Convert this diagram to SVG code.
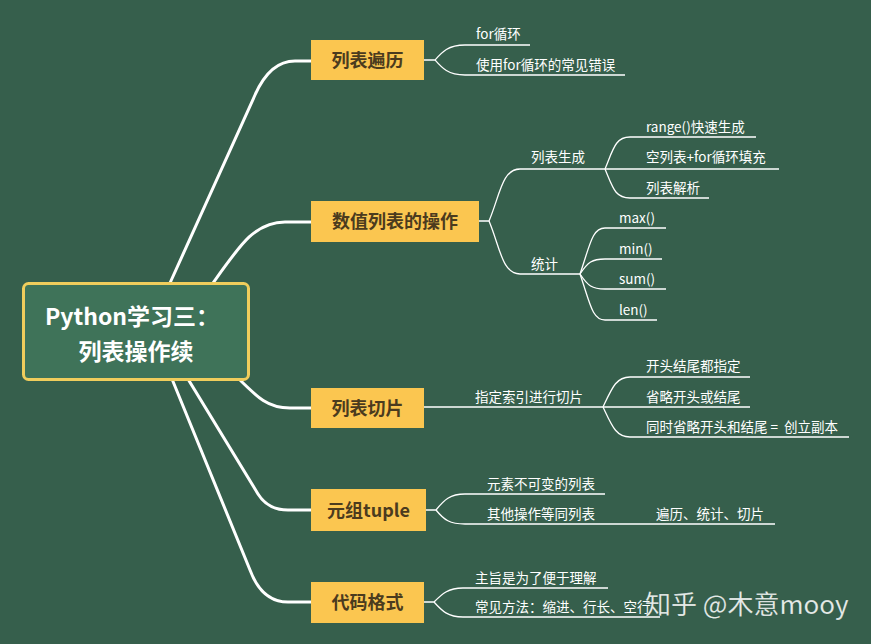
<svg xmlns="http://www.w3.org/2000/svg" width="871" height="644" viewBox="0 0 871 644">
<style>
.main{fill:none;stroke:#ffffff;stroke-width:3;stroke-linecap:round}
.sub{fill:none;stroke:#ffffff;stroke-width:1.3}
.box{fill:#fbc650}
.bt{font-family:"Noto Sans CJK SC","Liberation Sans",sans-serif;font-size:18px;font-weight:bold;fill:#4b3b1e;text-anchor:middle}
.ct{font-family:"Noto Sans CJK SC","Liberation Sans",sans-serif;font-size:13.5px;fill:#ffffff}
.rt{font-family:"Noto Sans CJK SC","Liberation Sans",sans-serif;font-size:23px;font-weight:bold;fill:#ffffff;text-anchor:middle}
</style>
<rect x="0" y="0" width="871" height="644" fill="#365f4c"/>
<g id="connectors">
<path class="main" d="M148,331 L170,283 L255,95 Q270,61 295,61 H311"/>
<path class="main" d="M185,331 L213,283 C240,245 255,222 285,222 H311"/>
<path class="main" d="M200,350 L238,378 C258,398 268,408 290,408 H311"/>
<path class="main" d="M175,350 L188,379 L258,494 Q268,510 288,510 H311"/>
<path class="main" d="M160,350 L172,379 L250,570 Q262,602 288,602 H311"/>
<path class="sub" d="M424,60 H435 C442,52 448,45 465,45 H530"/>
<path class="sub" d="M435,60 C442,68 448,75 465,75 H625"/>
<path class="sub" d="M479,221 H489 C500,195 502,169 520,169 H605"/>
<path class="sub" d="M489,221 C500,247 502,274 520,274 H580"/>
<path class="sub" d="M605,169 C613,150 615,137 630,137 H756"/>
<path class="sub" d="M605,169 H779"/>
<path class="sub" d="M605,169 C613,188 615,198 630,198 H709"/>
<path class="sub" d="M580,274 C590,245 592,228 605,228 H666"/>
<path class="sub" d="M580,274 C588,262 592,259 605,259 H662"/>
<path class="sub" d="M580,274 C588,286 592,289 605,289 H666"/>
<path class="sub" d="M580,274 C590,303 592,320 605,320 H657"/>
<path class="sub" d="M424,407 H603"/>
<path class="sub" d="M603,407 C612,388 616,377 630,377 H750"/>
<path class="sub" d="M603,407 H750"/>
<path class="sub" d="M603,407 C612,426 616,437 630,437 H849"/>
<path class="sub" d="M426,510 H436 C444,500 450,494 465,494 H605"/>
<path class="sub" d="M436,510 C444,520 450,524 465,524 H775"/>
<path class="sub" d="M424,602 H434 C442,594 448,588 463,588 H608"/>
<path class="sub" d="M434,602 C442,611 448,617 463,617 H660"/>
</g>
<g id="root">
<rect x="23.5" y="283.5" width="225" height="96" rx="5" fill="#3f7359" stroke="#f0cd5c" stroke-width="3"/>
<text class="rt" x="132" y="325">Python学习三：</text>
<text class="rt" x="136" y="360">列表操作续</text>
</g>
<g id="n1"><rect class="box" x="311" y="40" width="113" height="40"/><text class="bt" x="367.5" y="66.5">列表遍历</text></g>
<g id="n2"><rect class="box" x="311" y="201" width="168" height="41"/><text class="bt" x="395" y="228">数值列表的操作</text></g>
<g id="n3"><rect class="box" x="311" y="388" width="113" height="40"/><text class="bt" x="367.5" y="414.5">列表切片</text></g>
<g id="n4"><rect class="box" x="311" y="489" width="115" height="42"/><text class="bt" x="368.5" y="516.5">元组tuple</text></g>
<g id="n5"><rect class="box" x="311" y="582" width="113" height="41"/><text class="bt" x="367.5" y="608.5">代码格式</text></g>
<g id="c1"><text class="ct" x="476" y="39">for循环</text></g>
<g id="c2"><text class="ct" x="476" y="70">使用for循环的常见错误</text></g>
<g id="c3"><text class="ct" x="531" y="162">列表生成</text></g>
<g id="c4"><text class="ct" x="531" y="269">统计</text></g>
<g id="c5"><text class="ct" x="646" y="132">range()快速生成</text></g>
<g id="c6"><text class="ct" x="646" y="162">空列表+for循环填充</text></g>
<g id="c7"><text class="ct" x="646" y="193">列表解析</text></g>
<g id="c8"><text class="ct" x="619" y="223">max()</text></g>
<g id="c9"><text class="ct" x="619" y="254">min()</text></g>
<g id="c10"><text class="ct" x="619" y="284">sum()</text></g>
<g id="c11"><text class="ct" x="619" y="315">len()</text></g>
<g id="c12"><text class="ct" x="475" y="402">指定索引进行切片</text></g>
<g id="c13"><text class="ct" x="646" y="371">开头结尾都指定</text></g>
<g id="c14"><text class="ct" x="646" y="402">省略开头或结尾</text></g>
<g id="c15"><text class="ct" x="646" y="432" xml:space="preserve">同时省略开头和结尾 =  创立副本</text></g>
<g id="c16"><text class="ct" x="487" y="489">元素不可变的列表</text></g>
<g id="c17"><text class="ct" x="487" y="519">其他操作等同列表</text></g>
<g id="c18"><text class="ct" x="656" y="519">遍历、统计、切片</text></g>
<g id="c19"><text class="ct" x="475" y="583">主旨是为了便于理解</text></g>
<g id="c20"><text class="ct" x="475" y="612">常见方法：缩进、行长、空行</text></g>
<text x="645" y="614" font-family="'Noto Sans CJK SC','Liberation Sans',sans-serif" font-size="26" fill="#ffffff" fill-opacity="0.9" stroke="#2a4a3a" stroke-opacity="0.3" stroke-width="0.5">知乎 @木意mooy</text>
</svg>
